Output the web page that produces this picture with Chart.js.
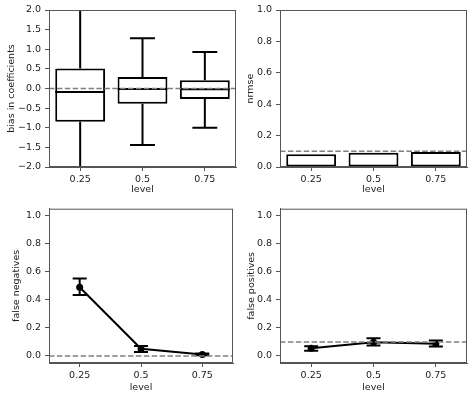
<!DOCTYPE html>
<html>
<head>
<meta charset="utf-8">
<script src="https://cdn.jsdelivr.net/npm/chart.js@4.4.1/dist/chart.umd.min.js"></script>
<style>
  body { margin: 0; background: #fff; }
  canvas { position: absolute; }
</style>
</head>
<body>
<canvas id="bias" width="237" height="199" style="left:0;top:0"></canvas>
<canvas id="nrmse" width="237" height="199" style="left:237px;top:0"></canvas>
<canvas id="fneg" width="237" height="199" style="left:0;top:199px"></canvas>
<canvas id="fpos" width="237" height="199" style="left:237px;top:199px"></canvas>
<script>
var levels = ["0.25", "0.5", "0.75"];

// bias in coefficients: box plot stats
var biasQ1 = [-0.85, -0.39, -0.27];
var biasQ3 = [0.51, 0.29, 0.21];
var biasMedian = [-0.09, -0.01, -0.02];
var biasLow = [-2.6, -1.44, -1.0];
var biasHigh = [2.5, 1.28, 0.93];

// nrmse bars
var nrmse = [0.081, 0.091, 0.095];

// false negatives with error bars
var falseNeg = [0.49, 0.052, 0.01];
var falseNegLow = [0.435, 0.028, 0.005];
var falseNegHigh = [0.552, 0.072, 0.018];

// false positives with error bars
var falsePos = [0.056, 0.098, 0.088];
var falsePosLow = [0.038, 0.074, 0.067];
var falsePosHigh = [0.07, 0.126, 0.11];

var biasTicks = [-2.0, -1.5, -1.0, -0.5, 0.0, 0.5, 1.0, 1.5, 2.0];
var unitTicks = [0.0, 0.2, 0.4, 0.6, 0.8, 1.0];

var axisColor = '#555';
var textColor = '#222';
Chart.defaults.font.family = "'DejaVu Sans', sans-serif";
Chart.defaults.font.size = 9.5;
Chart.defaults.color = textColor;

function fmt(v) {
    return Number(v).toFixed(1).replace('-', '\u2212');
}

function axes(yTitle, yMin, yMax, yTicks, yWidth, yTitlePad, xHeight, xTitlePad) {
    return {
        x: {
            type: 'category',
            offset: true,
            grid: { display: true, drawOnChartArea: false, offset: false, tickLength: 4, tickColor: axisColor },
            border: { display: true, color: axisColor, width: 1 },
            ticks: { padding: 3, color: textColor, maxRotation: 0, autoSkip: false },
            title: { display: true, text: 'level', color: textColor, padding: { top: 0, bottom: xTitlePad } },
            afterFit: function (s) { s.height = xHeight; }
        },
        y: {
            min: yMin,
            max: yMax,
            afterBuildTicks: function (s) {
                s.ticks = yTicks.map(function (v) { return { value: v }; });
            },
            grid: { display: true, drawOnChartArea: false, tickLength: 4, tickColor: axisColor },
            border: { display: true, color: axisColor, width: 1 },
            ticks: { padding: 4, color: textColor, callback: fmt },
            title: { display: true, text: yTitle, color: textColor, padding: { top: yTitlePad, bottom: 0 } },
            afterFit: function (s) { s.width = yWidth; }
        }
    };
}

// dashed reference line + full frame round the plot area
function framePlugin(refValue) {
    return {
        id: 'frame',
        afterDatasetsDraw: function (chart) {
            var ctx = chart.ctx, a = chart.chartArea;
            var yy = chart.scales.y.getPixelForValue(refValue);
            ctx.save();
            ctx.strokeStyle = '#808080';
            ctx.lineWidth = 1.5;
            ctx.setLineDash([5.5, 2.4]);
            ctx.beginPath();
            ctx.moveTo(a.left, yy);
            ctx.lineTo(a.right, yy);
            ctx.stroke();
            ctx.restore();
        },
        afterDraw: function (chart) {
            var ctx = chart.ctx, a = chart.chartArea;
            ctx.save();
            ctx.strokeStyle = axisColor;
            ctx.lineWidth = 1;
            ctx.strokeRect(a.left + 0.5, a.top + 0.5, a.right - a.left - 1, a.bottom - a.top - 1);
            ctx.restore();
        }
    };
}

var whiskerPlugin = {
    id: 'whiskers',
    afterDatasetsDraw: function (chart) {
        var ctx = chart.ctx, a = chart.chartArea, y = chart.scales.y;
        var bars = chart.getDatasetMeta(0).data;
        ctx.save();
        ctx.beginPath();
        ctx.rect(a.left, a.top, a.right - a.left, a.bottom - a.top);
        ctx.clip();
        ctx.strokeStyle = '#000';
        ctx.lineWidth = 2;
        bars.forEach(function (bar, i) {
            var x = bar.x, half = bar.width / 2, cap = bar.width / 4;
            var hi = y.getPixelForValue(biasHigh[i]);
            var lo = y.getPixelForValue(biasLow[i]);
            var q1 = y.getPixelForValue(biasQ1[i]);
            var q3 = y.getPixelForValue(biasQ3[i]);
            var med = y.getPixelForValue(biasMedian[i]);
            ctx.beginPath();
            ctx.moveTo(x, q3); ctx.lineTo(x, hi);
            ctx.moveTo(x - cap, hi); ctx.lineTo(x + cap, hi);
            ctx.moveTo(x, q1); ctx.lineTo(x, lo);
            ctx.moveTo(x - cap, lo); ctx.lineTo(x + cap, lo);
            ctx.moveTo(x - half, med); ctx.lineTo(x + half, med);
            ctx.stroke();
        });
        ctx.restore();
    }
};

function errorPlugin(lows, highs) {
    return {
        id: 'errorbars',
        afterDatasetsDraw: function (chart) {
            var ctx = chart.ctx, y = chart.scales.y;
            var pts = chart.getDatasetMeta(0).data;
            ctx.save();
            ctx.strokeStyle = '#000';
            ctx.lineWidth = 2;
            pts.forEach(function (p, i) {
                var top = y.getPixelForValue(highs[i]);
                var bot = y.getPixelForValue(lows[i]);
                ctx.beginPath();
                ctx.moveTo(p.x, top); ctx.lineTo(p.x, bot);
                ctx.moveTo(p.x - 7, top); ctx.lineTo(p.x + 7, top);
                ctx.moveTo(p.x - 7, bot); ctx.lineTo(p.x + 7, bot);
                ctx.stroke();
            });
            ctx.restore();
        }
    };
}

var common = {
    responsive: false,
    animation: false,
    events: [],
    plugins: { legend: { display: false }, tooltip: { enabled: false } }
};

function opts(pad, scales) {
    return Object.assign({}, common, { layout: { padding: pad }, scales: scales });
}

new Chart(document.getElementById('bias'), {
    type: 'bar',
    data: {
        labels: levels,
        datasets: [{
            data: biasQ1.map(function (q, i) { return [q, biasQ3[i]]; }),
            backgroundColor: '#fff',
            borderColor: '#000',
            borderWidth: 2,
            borderSkipped: false,
            barPercentage: 0.8,
            categoryPercentage: 1.0
        }]
    },
    options: opts({ top: 10, right: 1, left: 0, bottom: 0 },
        axes('bias in coefficients', -2.0, 2.0, biasTicks, 49, 6.3, 32, 3.3)),
    plugins: [whiskerPlugin, framePlugin(0)]
});

new Chart(document.getElementById('nrmse'), {
    type: 'bar',
    data: {
        labels: levels,
        datasets: [{
            data: nrmse,
            backgroundColor: '#fff',
            borderColor: '#000',
            borderWidth: 2,
            borderSkipped: false,
            barPercentage: 0.8,
            categoryPercentage: 1.0
        }]
    },
    options: opts({ top: 10, right: 7, left: 0, bottom: 0 },
        axes('nrmse', 0, 1.0, unitTicks, 43, 7.6, 32, 3.3)),
    plugins: [framePlugin(0.1)]
});

function lineSet(values) {
    return {
        data: values,
        borderColor: '#000',
        backgroundColor: '#000',
        borderWidth: 2,
        pointRadius: 3.5,
        pointBackgroundColor: '#000',
        pointBorderWidth: 0,
        tension: 0
    };
}

new Chart(document.getElementById('fneg'), {
    type: 'line',
    data: { labels: levels, datasets: [lineSet(falseNeg)] },
    options: opts({ top: 7, right: 1, left: 0, bottom: 0 },
        axes('false negatives', -0.05, 1.05, unitTicks, 49, 11, 35, 4.3)),
    plugins: [errorPlugin(falseNegLow, falseNegHigh), framePlugin(0)]
});

new Chart(document.getElementById('fpos'), {
    type: 'line',
    data: { labels: levels, datasets: [lineSet(falsePos)] },
    options: opts({ top: 7, right: 7, left: 0, bottom: 0 },
        axes('false positives', -0.05, 1.05, unitTicks, 43, 9.3, 35, 4.3)),
    plugins: [errorPlugin(falsePosLow, falsePosHigh), framePlugin(0.1)]
});
</script>
</body>
</html>
